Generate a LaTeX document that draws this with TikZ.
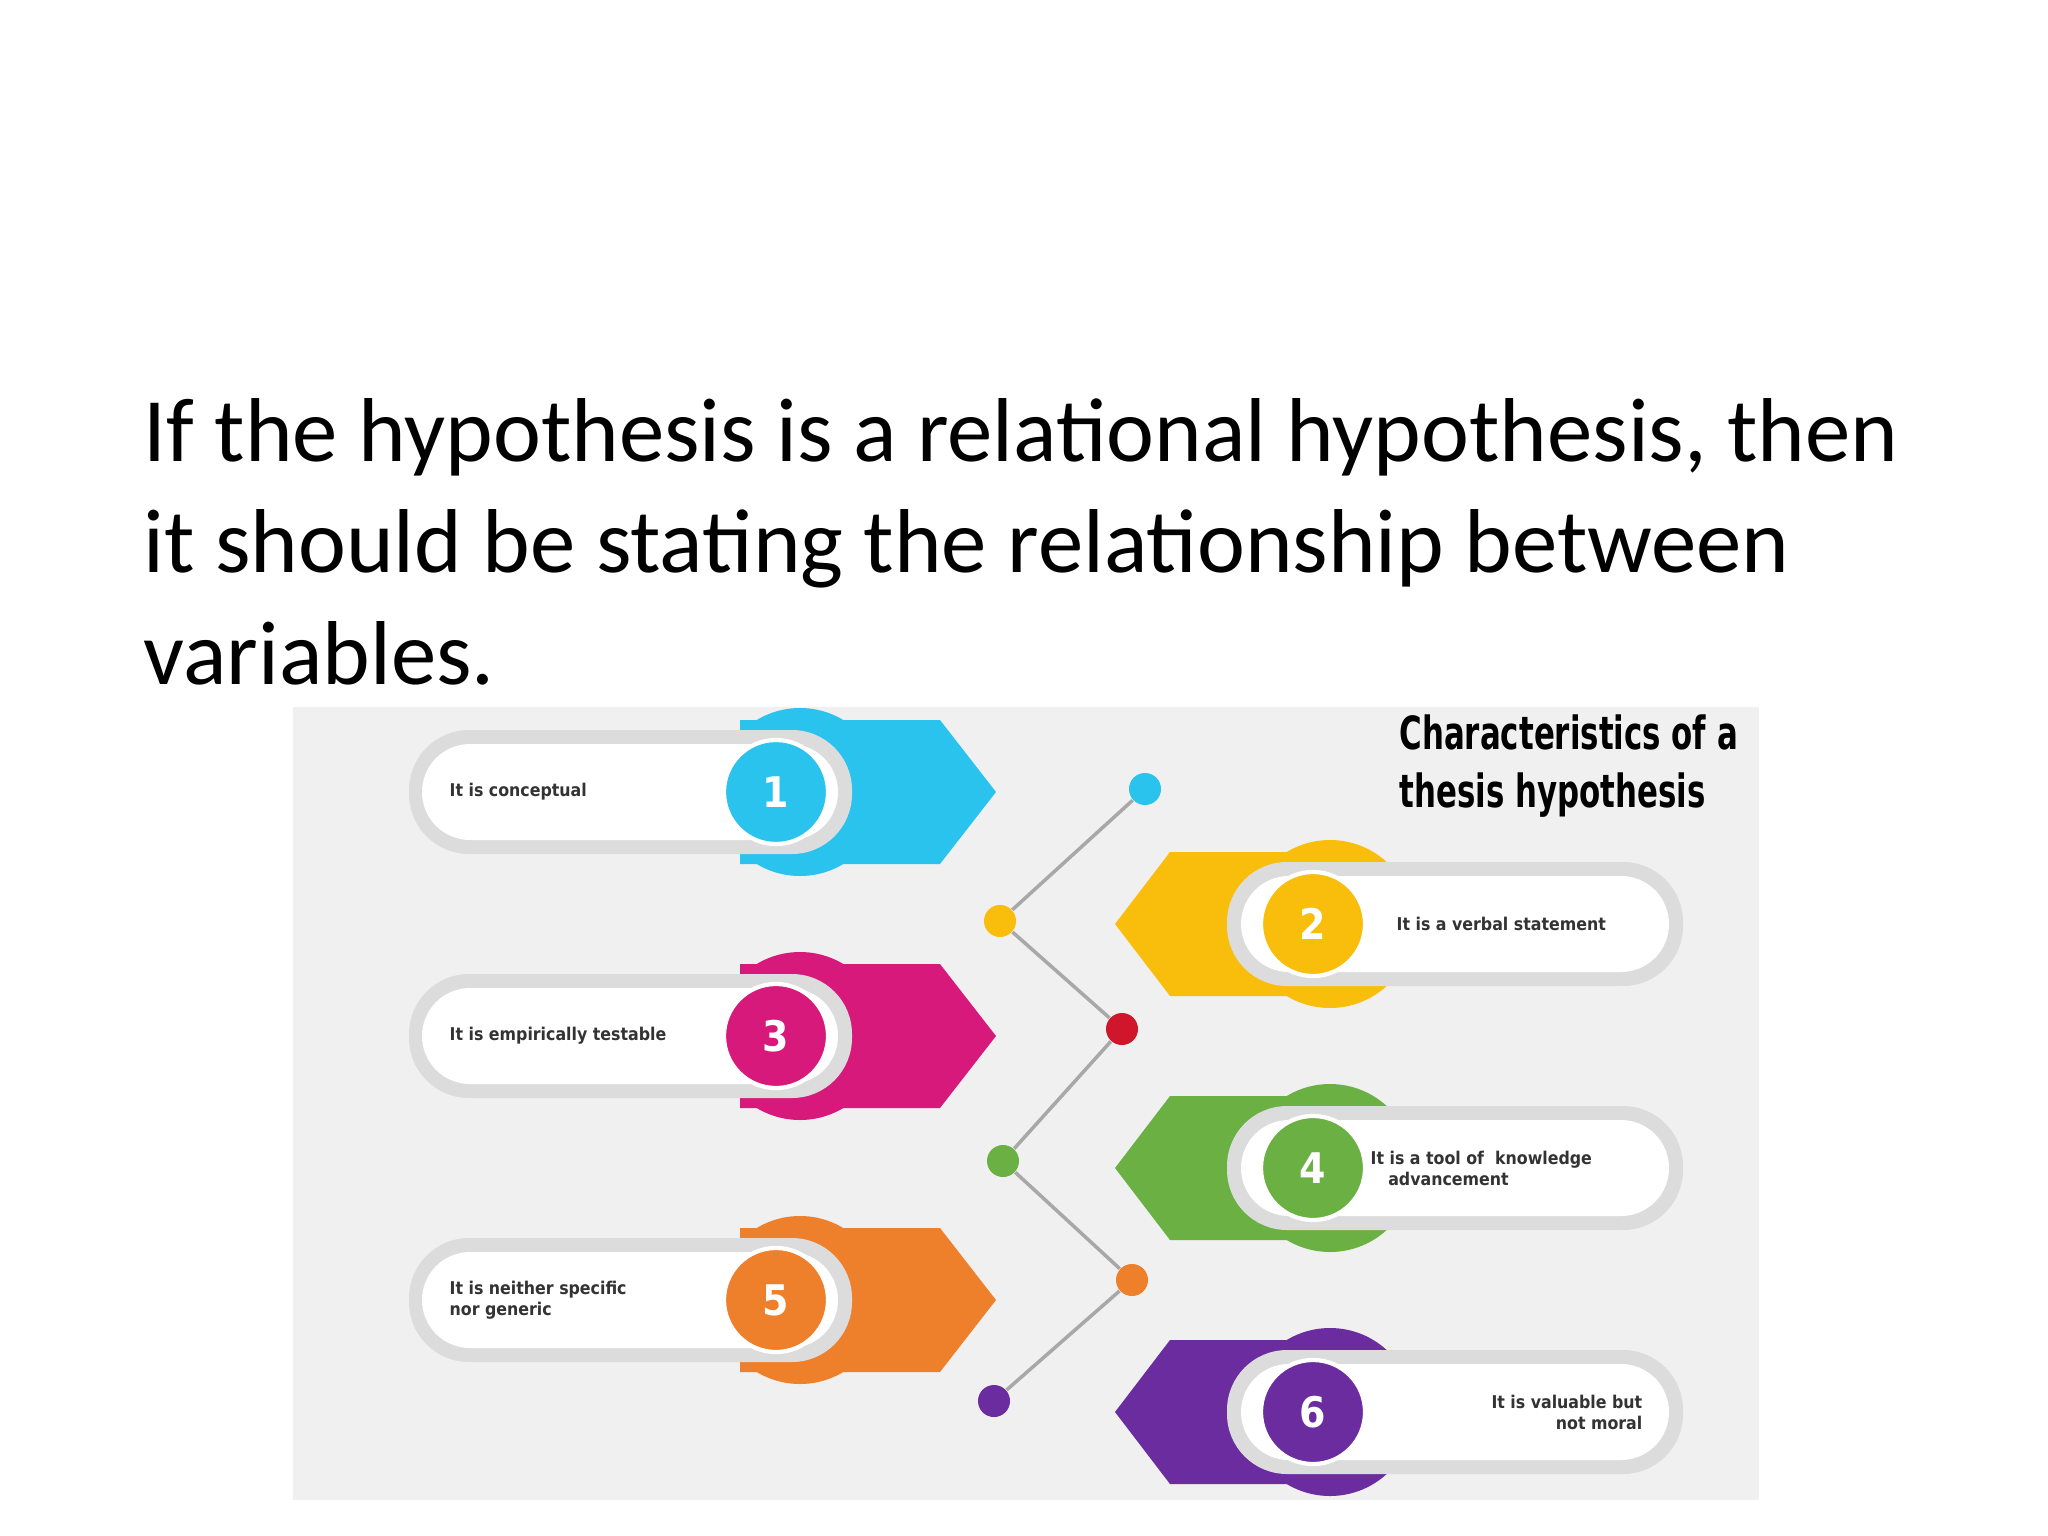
\documentclass[tikz,border=0pt]{standalone}
\usepackage{fontspec}
\setmainfont{Carlito}
\newfontfamily\condfont{DejaVu Sans Condensed}
\usetikzlibrary{positioning}

\definecolor{panelgray}{HTML}{F0F0F0}
\definecolor{pillgray}{HTML}{DCDCDC}
\definecolor{linegray}{HTML}{A8A8A8}
\definecolor{hcyan}{HTML}{29C3EE}
\definecolor{hyellow}{HTML}{F9BE0B}
\definecolor{hmagenta}{HTML}{D6197A}
\definecolor{hgreen}{HTML}{6AB043}
\definecolor{horange}{HTML}{EE7F2B}
\definecolor{hpurple}{HTML}{6A2C9E}
\definecolor{hred}{HTML}{D0162B}

\tikzset{
  numcircle/.style={circle, draw=white, line width=1.2pt, minimum size=1.04cm,
    text=white, font=\condfont\bfseries\large, inner sep=0pt},
  itemtext/.style={font=\condfont\bfseries\tiny, text=black!80, align=left, inner sep=0pt},
  dotnode/.style={circle, fill=#1, minimum size=0.32cm, inner sep=0pt},
  joinline/.style={draw=linegray, line width=1pt}
}

% left item: name, colour, y, number, text
\newcommand{\leftitem}[5]{
  \fill[#2] (800,#3) circle (84);
  \fill[#2] (740,#3-72) -- (940,#3-72) -- (996,#3) -- (940,#3+72) -- (740,#3+72) -- cycle;
  \fill[pillgray, rounded corners=0.6cm] (409,#3-62) rectangle (852,#3+62);
  \fill[white, rounded corners=0.48cm] (422,#3-48) rectangle (838,#3+48);
  \node[numcircle, fill=#2] (#1) at (776,#3) {#4};
  \node[itemtext, anchor=west] (#1text) at (449,#3) {#5};
}
% right item: name, colour, y, number, text, anchor, x
\newcommand{\rightitem}[7]{
  \fill[#2] (1330,#3) circle (84);
  \fill[#2] (1370,#3-72) -- (1170,#3-72) -- (1115,#3) -- (1170,#3+72) -- (1370,#3+72) -- cycle;
  \fill[pillgray, rounded corners=0.6cm] (1227,#3-62) rectangle (1683,#3+62);
  \fill[white, rounded corners=0.48cm] (1241,#3-48) rectangle (1669,#3+48);
  \node[numcircle, fill=#2] (#1) at (1313,#3) {#4};
  \node[itemtext, anchor=#6] (#1text) at (#7,#3) {#5};
}

\begin{document}
\begin{tikzpicture}[x=0.01cm, y=-0.01cm]
  \useasboundingbox[fill=white] (0,0) rectangle (2048,1536);

  % heading text
  \node[anchor=base west, align=left, font=\fontsize{25.8}{31.6}\selectfont, inner sep=0pt]
    (lead) at (143,684) {If the hypothesis is a relational hypothesis, then\\
    it should be stating the relationship between\\ variables.};

  % picture panel
  \fill[panelgray] (293,707) rectangle (1759,1500);

  \node[anchor=north west, align=left, xscale=0.75, font=\condfont\bfseries\fontsize{13}{16.5}\selectfont, inner sep=0pt]
    (title) at (1399,714) {Characteristics of a\\thesis hypothesis};

  % dots and zigzag
  \node[dotnode=hcyan] (d1) at (1145,789) {};
  \node[dotnode=hyellow] (d2) at (1000,921) {};
  \node[dotnode=hred] (d3) at (1122,1029) {};
  \node[dotnode=hgreen] (d4) at (1003,1161) {};
  \node[dotnode=horange] (d5) at (1132,1280) {};
  \node[dotnode=hpurple] (d6) at (994,1401) {};
  \draw[joinline] (d1) -- (d2) -- (d3) -- (d4) -- (d5) -- (d6);

  % items
  \leftitem{one}{hcyan}{792}{1}{It is conceptual}
  \rightitem{two}{hyellow}{924}{2}{It is a verbal statement}{west}{1396}
  \leftitem{three}{hmagenta}{1036}{3}{It is empirically testable}
  \rightitem{four}{hgreen}{1168}{4}{It is a tool of \ knowledge\\\quad advancement}{west}{1370}
  \leftitem{five}{horange}{1300}{5}{It is neither specific\\nor generic}
  \rightitem{six}{hpurple}{1412}{6}{\hfill It is valuable but\\\hfill not moral}{east}{1643}
\end{tikzpicture}
\end{document}
